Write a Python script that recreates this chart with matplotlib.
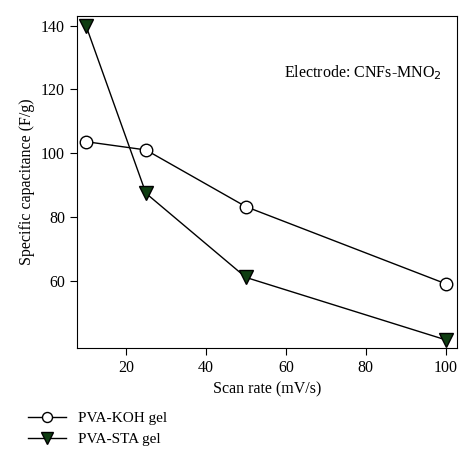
import matplotlib
matplotlib.use("Agg")
import matplotlib.pyplot as plt

plt.rcParams["font.family"] = ["Liberation Serif", "DejaVu Serif"]

scan_rate = [10, 25, 50, 100]
koh_gel = [103.6, 101.0, 83.2, 59.0]
sta_gel = [140.0, 87.4, 61.0, 41.4]

fig = plt.figure(figsize=(4.74, 4.65), dpi=100)
ax = fig.add_axes([0.162, 0.252, 0.802, 0.714])

ax.plot(scan_rate, koh_gel, marker="o", color="black", linewidth=1,
        markerfacecolor="white", markeredgecolor="black", markersize=9, label="PVA-KOH gel")
ax.plot(scan_rate, sta_gel, marker="v", color="black", linewidth=1,
        markerfacecolor="#0f3d12", markeredgecolor="black", markersize=10, label="PVA-STA gel")

ax.set_xlim(7.7, 102.8)
ax.set_ylim(38.9, 143.1)
ax.set_xticks([20, 40, 60, 80, 100])
ax.set_yticks([60, 80, 100, 120, 140])
ax.tick_params(labelsize=11.5, direction="out", length=5)
ax.set_xlabel("Scan rate (mV/s)", fontsize=11.5)
ax.set_ylabel("Specific capacitance (F/g)", fontsize=11.5)
ax.text(0.96, 0.83, "Electrode: CNFs-MNO$_2$", transform=ax.transAxes,
        ha="right", va="center", fontsize=11.5)

fig.legend(loc="upper left", bbox_to_anchor=(0.03, 0.145), frameon=False, fontsize=11,
           handlelength=2.5, labelspacing=0.5, markerscale=0.8)

fig.savefig("out.png", dpi=100)
